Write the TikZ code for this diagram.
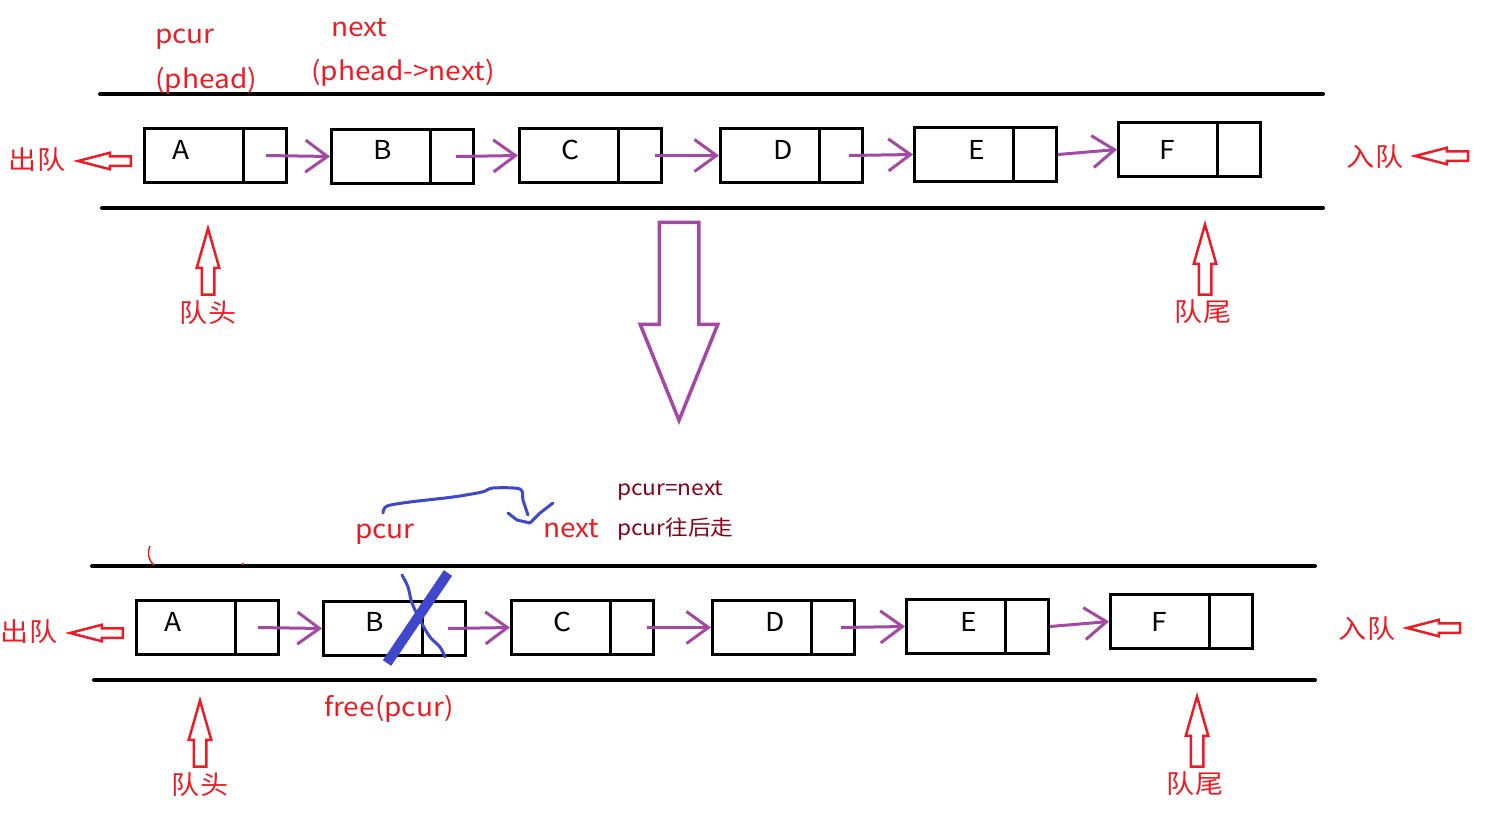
\documentclass[tikz,border=0pt]{standalone}
\usepackage{fontspec}
\setmainfont{Noto Sans CJK SC}[FakeStretch=1.08]
\usetikzlibrary{arrows.meta,shapes.arrows}
\definecolor{pred}{RGB}{237,28,36}
\definecolor{ppurple}{RGB}{163,73,164}
\definecolor{pblue}{RGB}{63,72,204}
\definecolor{pdark}{RGB}{136,0,21}
\tikzset{
  rail/.style={line width=4pt,line cap=round},
  cell/.style={draw,line width=3pt,minimum width=142pt,minimum height=54pt,inner sep=0pt},
  link/.style={ppurple,line width=3pt,-{Straight Barb[length=22pt,width=32pt]}},
  lbl/.style={pred,font=\fontsize{26}{30}\selectfont,inner sep=0pt},
  note/.style={pdark,font=\fontsize{21}{25}\selectfont,inner sep=0pt},
  hollow/.style={shape=single arrow,draw=pred,line width=2.5pt,inner xsep=0pt,anchor=tip},
  sidearrow/.style={hollow,rotate=180,minimum height=53pt,minimum width=14pt,inner ysep=3.5pt,
    single arrow head extend=3.5pt,single arrow tip angle=29},
  uparrow/.style={hollow,rotate=90,minimum width=20pt,inner ysep=5pt,
    single arrow head extend=5pt,single arrow tip angle=32}
}
\begin{document}
\begin{tikzpicture}[x=1pt,y=-1pt]
  \useasboundingbox (0,0) rectangle (1501,820);
  \foreach \r/\dx/\dy in {t/0/0,b/-8/472} {
    \begin{scope}[shift={(\dx,\dy)}]
      \draw[rail] (100,94) -- (1323,94);
      \draw[rail] (102,208) -- (1323,208);
      % nodes of the queue
      \foreach \n/\x/\y/\lx in {A/143/127/181,B/330/128/383,C/518/127/570,
                                D/719/127/783,E/913/126/977,F/1117/121/1167} {
        \node[cell,anchor=north west] (\r\n) at (\x,\y) {};
        \draw[line width=3pt] ([xshift=100pt]\r\n.north west) -- ([xshift=100pt]\r\n.south west);
        \node[font=\fontsize{26}{30}\selectfont,inner sep=0pt] (\r\n-txt) at (\lx,150) {\n};
      };
      \foreach \a/\b/\o in {A/B/22,B/C/19,C/D/8,D/E/15,E/F/0}
        \draw[link] ([xshift=-\o pt]\r\a.east) -- (\r\b.west);
      % in and out
      \node[lbl] (\r-out) at (37,160) {出队};
      \node[sidearrow] (\r-outarr) at (73,161) {};
      \node[lbl] (\r-in) at (1375,157) {入队};
      \node[sidearrow] (\r-inarr) at (1410,156) {};
      \node[uparrow,minimum height=66pt] (\r-headarr) at (208,224) {};
      \node[lbl] (\r-head) at (208,313) {队头};
      \node[uparrow,minimum height=70pt] (\r-tailarr) at (1205,220) {};
      \node[lbl] (\r-tail) at (1203,312) {队尾};
    \end{scope}
  };
  % top labels
  \node[lbl,anchor=base west] (pcur1) at (155,43) {pcur};
  \node[lbl,anchor=base west] (phead) at (155,88) {(phead)};
  \node[lbl,anchor=base west] (next1) at (331,36) {next};
  \node[lbl,anchor=base west] (pnext) at (311,80) {(phead->next)};
  \node[hollow,draw=ppurple,line width=3.5pt,rotate=-90,minimum height=198pt,minimum width=76pt,
    inner ysep=18pt,single arrow head extend=19pt,single arrow tip angle=44] (step) at (679,425) {};
  % bottom labels
  \node[lbl,anchor=base west] (pcur2) at (355,538) {pcur};
  \node[lbl,anchor=base west] (next2) at (543,537) {next};
  \node[note,anchor=base west] (move1) at (617,495) {pcur=next};
  \node[note,anchor=base west] (move2) at (617,535) {pcur往后走};
  \node[lbl,anchor=base west] (free) at (324,716) {free(pcur)};
  \draw[pblue,line width=3pt,line cap=round,line join=round] plot[smooth] coordinates
    {(383,513) (387,506) (410,502) (453,497) (482,492) (493,488) (520,489) (523,500) (528,515)};
  \draw[pblue,line width=3pt,line cap=round,line join=round]
    (508,513) -- (517,520) -- (530,523) -- (540,513) -- (553,503);
  \draw[pblue,line width=10pt] (387,663) -- (448,573);
  \draw[pblue,line width=3pt,line cap=round] plot[smooth] coordinates
    {(402,575) (408,587) (412,603) (421,622) (430,637) (440,647) (445,657)};
  \draw[pred,line width=1.5pt] (150,546) .. controls (147,552) and (148,560) .. (154,565);
  \fill[pred] (243,564) circle (1.3);
\end{tikzpicture}
\end{document}
